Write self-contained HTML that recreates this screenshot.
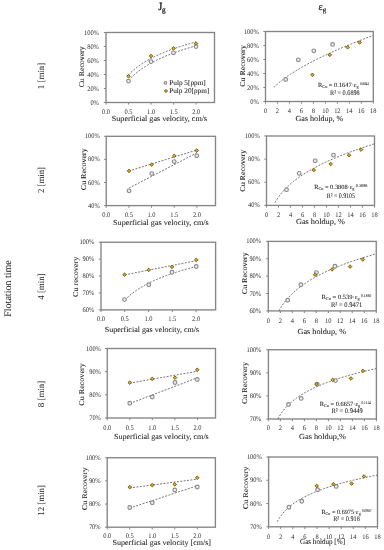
<!DOCTYPE html>
<html><head><meta charset="utf-8"><style>
html,body{margin:0;padding:0;background:#fff;}
body{width:384px;height:550px;overflow:hidden;}
svg{display:block;font-family:"Liberation Serif",serif;will-change:transform;text-rendering:geometricPrecision;}
text{stroke:#1a1a1a;stroke-width:0.06px;}
text.t{stroke:none;}
</style></head><body>
<svg width="384" height="550" viewBox="0 0 384 550">
<rect width="384" height="550" fill="#fff"/>
<rect x="106" y="32.5" width="108.5" height="70" fill="none" stroke="#858585" stroke-width="1.35"/>
<line x1="103.8" y1="102.5" x2="106" y2="102.5" stroke="#858585" stroke-width="1"/>
<text x="99" y="104.5" class="t" font-size="7.0" text-anchor="end" fill="#2a2a2a" textLength="8.58" lengthAdjust="spacingAndGlyphs">0%</text>
<line x1="103.8" y1="88.5" x2="106" y2="88.5" stroke="#858585" stroke-width="1"/>
<text x="99" y="90.5" class="t" font-size="7.0" text-anchor="end" fill="#2a2a2a" textLength="11.8" lengthAdjust="spacingAndGlyphs">20%</text>
<line x1="103.8" y1="74.5" x2="106" y2="74.5" stroke="#858585" stroke-width="1"/>
<text x="99" y="76.5" class="t" font-size="7.0" text-anchor="end" fill="#2a2a2a" textLength="11.8" lengthAdjust="spacingAndGlyphs">40%</text>
<line x1="103.8" y1="60.5" x2="106" y2="60.5" stroke="#858585" stroke-width="1"/>
<text x="99" y="62.5" class="t" font-size="7.0" text-anchor="end" fill="#2a2a2a" textLength="11.8" lengthAdjust="spacingAndGlyphs">60%</text>
<line x1="103.8" y1="46.5" x2="106" y2="46.5" stroke="#858585" stroke-width="1"/>
<text x="99" y="48.5" class="t" font-size="7.0" text-anchor="end" fill="#2a2a2a" textLength="11.8" lengthAdjust="spacingAndGlyphs">80%</text>
<line x1="103.8" y1="32.5" x2="106" y2="32.5" stroke="#858585" stroke-width="1"/>
<text x="99" y="34.5" class="t" font-size="7.0" text-anchor="end" fill="#2a2a2a" textLength="15.02" lengthAdjust="spacingAndGlyphs">100%</text>
<line x1="106" y1="102.5" x2="106" y2="104.7" stroke="#858585" stroke-width="1"/>
<text x="106" y="113.9" class="t" font-size="7.0" text-anchor="middle" fill="#2a2a2a" textLength="8.05" lengthAdjust="spacingAndGlyphs">0.0</text>
<line x1="128.55" y1="102.5" x2="128.55" y2="104.7" stroke="#858585" stroke-width="1"/>
<text x="128.55" y="113.9" class="t" font-size="7.0" text-anchor="middle" fill="#2a2a2a" textLength="8.05" lengthAdjust="spacingAndGlyphs">0.5</text>
<line x1="151.1" y1="102.5" x2="151.1" y2="104.7" stroke="#858585" stroke-width="1"/>
<text x="151.1" y="113.9" class="t" font-size="7.0" text-anchor="middle" fill="#2a2a2a" textLength="8.05" lengthAdjust="spacingAndGlyphs">1.0</text>
<line x1="173.65" y1="102.5" x2="173.65" y2="104.7" stroke="#858585" stroke-width="1"/>
<text x="173.65" y="113.9" class="t" font-size="7.0" text-anchor="middle" fill="#2a2a2a" textLength="8.05" lengthAdjust="spacingAndGlyphs">1.5</text>
<line x1="196.2" y1="102.5" x2="196.2" y2="104.7" stroke="#858585" stroke-width="1"/>
<text x="196.2" y="113.9" class="t" font-size="7.0" text-anchor="middle" fill="#2a2a2a" textLength="8.05" lengthAdjust="spacingAndGlyphs">2.0</text>
<text transform="translate(83.8,66.85) rotate(-90)" x="0" y="0" font-size="7.4" text-anchor="middle" fill="#1a1a1a" textLength="41" lengthAdjust="spacingAndGlyphs">Cu Recovery</text>
<text x="111.8" y="120.6" font-size="7.8" fill="#1a1a1a" textLength="95.3" lengthAdjust="spacingAndGlyphs">Superficial gas velocity, cm/s</text>
<path d="M128.55,80.34 L130.88,77.88 L133.22,75.65 L135.55,73.6 L137.88,71.7 L140.21,69.94 L142.55,68.29 L144.88,66.75 L147.21,65.3 L149.54,63.92 L151.88,62.62 L154.21,61.38 L156.54,60.21 L158.88,59.08 L161.21,58 L163.54,56.97 L165.87,55.98 L168.21,55.03 L170.54,54.11 L172.87,53.22 L175.21,52.37 L177.54,51.54 L179.87,50.74 L182.2,49.96 L184.54,49.21 L186.87,48.48 L189.2,47.77 L191.53,47.08 L193.87,46.41 L196.2,45.76" fill="none" stroke="#666666" stroke-width="0.9" stroke-dasharray="2 1.4"/>
<path d="M128.55,74.86 L130.88,72.52 L133.22,70.39 L135.55,68.44 L137.88,66.63 L140.21,64.95 L142.55,63.38 L144.88,61.91 L147.21,60.53 L149.54,59.22 L151.88,57.98 L154.21,56.8 L156.54,55.67 L158.88,54.6 L161.21,53.57 L163.54,52.59 L165.87,51.65 L168.21,50.74 L170.54,49.86 L172.87,49.02 L175.21,48.2 L177.54,47.41 L179.87,46.65 L182.2,45.91 L184.54,45.19 L186.87,44.5 L189.2,43.82 L191.53,43.16 L193.87,42.53 L196.2,41.9" fill="none" stroke="#666666" stroke-width="0.9" stroke-dasharray="2 1.4"/>
<circle cx="128.5" cy="81.1" r="1.85" fill="#f0f0f0" stroke="#8a8a8a" stroke-width="1.15"/>
<circle cx="151" cy="61.6" r="1.85" fill="#f0f0f0" stroke="#8a8a8a" stroke-width="1.15"/>
<circle cx="173.5" cy="52.8" r="1.85" fill="#f0f0f0" stroke="#8a8a8a" stroke-width="1.15"/>
<circle cx="196" cy="46.6" r="1.85" fill="#f0f0f0" stroke="#8a8a8a" stroke-width="1.15"/>
<path d="M128.5,74.5 L130.3,76.3 L128.5,78.1 L126.7,76.3Z" fill="#E8AA00" stroke="#5e5020" stroke-width="0.85"/>
<path d="M151,54.2 L152.8,56 L151,57.8 L149.2,56Z" fill="#E8AA00" stroke="#5e5020" stroke-width="0.85"/>
<path d="M173.5,46.6 L175.3,48.4 L173.5,50.2 L171.7,48.4Z" fill="#E8AA00" stroke="#5e5020" stroke-width="0.85"/>
<path d="M196,41.8 L197.8,43.6 L196,45.4 L194.2,43.6Z" fill="#E8AA00" stroke="#5e5020" stroke-width="0.85"/>
<rect x="106.25" y="136.3" width="109.25" height="69.3" fill="none" stroke="#858585" stroke-width="1.35"/>
<line x1="104.05" y1="205.6" x2="106.25" y2="205.6" stroke="#858585" stroke-width="1"/>
<text x="99.8" y="207.6" class="t" font-size="7.0" text-anchor="end" fill="#2a2a2a" textLength="11.8" lengthAdjust="spacingAndGlyphs">40%</text>
<line x1="104.05" y1="182.5" x2="106.25" y2="182.5" stroke="#858585" stroke-width="1"/>
<text x="99.8" y="184.5" class="t" font-size="7.0" text-anchor="end" fill="#2a2a2a" textLength="11.8" lengthAdjust="spacingAndGlyphs">60%</text>
<line x1="104.05" y1="159.4" x2="106.25" y2="159.4" stroke="#858585" stroke-width="1"/>
<text x="99.8" y="161.4" class="t" font-size="7.0" text-anchor="end" fill="#2a2a2a" textLength="11.8" lengthAdjust="spacingAndGlyphs">80%</text>
<line x1="104.05" y1="136.3" x2="106.25" y2="136.3" stroke="#858585" stroke-width="1"/>
<text x="99.8" y="138.3" class="t" font-size="7.0" text-anchor="end" fill="#2a2a2a" textLength="15.02" lengthAdjust="spacingAndGlyphs">100%</text>
<line x1="106.25" y1="205.6" x2="106.25" y2="207.8" stroke="#858585" stroke-width="1"/>
<text x="106.25" y="216.9" class="t" font-size="7.0" text-anchor="middle" fill="#2a2a2a" textLength="8.05" lengthAdjust="spacingAndGlyphs">0.0</text>
<line x1="128.91" y1="205.6" x2="128.91" y2="207.8" stroke="#858585" stroke-width="1"/>
<text x="128.91" y="216.9" class="t" font-size="7.0" text-anchor="middle" fill="#2a2a2a" textLength="8.05" lengthAdjust="spacingAndGlyphs">0.5</text>
<line x1="151.57" y1="205.6" x2="151.57" y2="207.8" stroke="#858585" stroke-width="1"/>
<text x="151.57" y="216.9" class="t" font-size="7.0" text-anchor="middle" fill="#2a2a2a" textLength="8.05" lengthAdjust="spacingAndGlyphs">1.0</text>
<line x1="174.24" y1="205.6" x2="174.24" y2="207.8" stroke="#858585" stroke-width="1"/>
<text x="174.24" y="216.9" class="t" font-size="7.0" text-anchor="middle" fill="#2a2a2a" textLength="8.05" lengthAdjust="spacingAndGlyphs">1.5</text>
<line x1="196.9" y1="205.6" x2="196.9" y2="207.8" stroke="#858585" stroke-width="1"/>
<text x="196.9" y="216.9" class="t" font-size="7.0" text-anchor="middle" fill="#2a2a2a" textLength="8.05" lengthAdjust="spacingAndGlyphs">2.0</text>
<text transform="translate(86.4,169.25) rotate(-90)" x="0" y="0" font-size="7.4" text-anchor="middle" fill="#1a1a1a" textLength="41.9" lengthAdjust="spacingAndGlyphs">Cu Recovery</text>
<text x="113.1" y="225.2" font-size="7.8" fill="#1a1a1a" textLength="95.65" lengthAdjust="spacingAndGlyphs">Superficial gas velocity, cm/s</text>
<path d="M128.91,188.12 L196.9,152.86" fill="none" stroke="#666666" stroke-width="0.9" stroke-dasharray="2 1.4"/>
<path d="M128.91,170.96 L196.9,149.98" fill="none" stroke="#666666" stroke-width="0.9" stroke-dasharray="2 1.4"/>
<circle cx="129" cy="190.8" r="1.85" fill="#f0f0f0" stroke="#8a8a8a" stroke-width="1.15"/>
<circle cx="151.75" cy="173.55" r="1.85" fill="#f0f0f0" stroke="#8a8a8a" stroke-width="1.15"/>
<circle cx="174.25" cy="161.55" r="1.85" fill="#f0f0f0" stroke="#8a8a8a" stroke-width="1.15"/>
<circle cx="196.75" cy="155.8" r="1.85" fill="#f0f0f0" stroke="#8a8a8a" stroke-width="1.15"/>
<path d="M129,169.1 L130.8,170.9 L129,172.7 L127.2,170.9Z" fill="#E8AA00" stroke="#5e5020" stroke-width="0.85"/>
<path d="M151.75,162.85 L153.55,164.65 L151.75,166.45 L149.95,164.65Z" fill="#E8AA00" stroke="#5e5020" stroke-width="0.85"/>
<path d="M174.25,154.1 L176.05,155.9 L174.25,157.7 L172.45,155.9Z" fill="#E8AA00" stroke="#5e5020" stroke-width="0.85"/>
<path d="M196.75,148.8 L198.55,150.6 L196.75,152.4 L194.95,150.6Z" fill="#E8AA00" stroke="#5e5020" stroke-width="0.85"/>
<rect x="101" y="242.25" width="114.6" height="67.65" fill="none" stroke="#858585" stroke-width="1.35"/>
<line x1="98.8" y1="309.9" x2="101" y2="309.9" stroke="#858585" stroke-width="1"/>
<text x="94.4" y="311.9" class="t" font-size="7.0" text-anchor="end" fill="#2a2a2a" textLength="11.8" lengthAdjust="spacingAndGlyphs">60%</text>
<line x1="98.8" y1="292.99" x2="101" y2="292.99" stroke="#858585" stroke-width="1"/>
<text x="94.4" y="294.99" class="t" font-size="7.0" text-anchor="end" fill="#2a2a2a" textLength="11.8" lengthAdjust="spacingAndGlyphs">70%</text>
<line x1="98.8" y1="276.07" x2="101" y2="276.07" stroke="#858585" stroke-width="1"/>
<text x="94.4" y="278.07" class="t" font-size="7.0" text-anchor="end" fill="#2a2a2a" textLength="11.8" lengthAdjust="spacingAndGlyphs">80%</text>
<line x1="98.8" y1="259.16" x2="101" y2="259.16" stroke="#858585" stroke-width="1"/>
<text x="94.4" y="261.16" class="t" font-size="7.0" text-anchor="end" fill="#2a2a2a" textLength="11.8" lengthAdjust="spacingAndGlyphs">90%</text>
<line x1="98.8" y1="242.25" x2="101" y2="242.25" stroke="#858585" stroke-width="1"/>
<text x="94.4" y="244.25" class="t" font-size="7.0" text-anchor="end" fill="#2a2a2a" textLength="15.02" lengthAdjust="spacingAndGlyphs">100%</text>
<line x1="101" y1="309.9" x2="101" y2="312.1" stroke="#858585" stroke-width="1"/>
<text x="101" y="320.8" class="t" font-size="7.0" text-anchor="middle" fill="#2a2a2a" textLength="8.05" lengthAdjust="spacingAndGlyphs">0.0</text>
<line x1="124.78" y1="309.9" x2="124.78" y2="312.1" stroke="#858585" stroke-width="1"/>
<text x="124.78" y="320.8" class="t" font-size="7.0" text-anchor="middle" fill="#2a2a2a" textLength="8.05" lengthAdjust="spacingAndGlyphs">0.5</text>
<line x1="148.55" y1="309.9" x2="148.55" y2="312.1" stroke="#858585" stroke-width="1"/>
<text x="148.55" y="320.8" class="t" font-size="7.0" text-anchor="middle" fill="#2a2a2a" textLength="8.05" lengthAdjust="spacingAndGlyphs">1.0</text>
<line x1="172.32" y1="309.9" x2="172.32" y2="312.1" stroke="#858585" stroke-width="1"/>
<text x="172.32" y="320.8" class="t" font-size="7.0" text-anchor="middle" fill="#2a2a2a" textLength="8.05" lengthAdjust="spacingAndGlyphs">1.5</text>
<line x1="196.1" y1="309.9" x2="196.1" y2="312.1" stroke="#858585" stroke-width="1"/>
<text x="196.1" y="320.8" class="t" font-size="7.0" text-anchor="middle" fill="#2a2a2a" textLength="8.05" lengthAdjust="spacingAndGlyphs">2.0</text>
<text transform="translate(78,276.85) rotate(-90)" x="0" y="0" font-size="7.4" text-anchor="middle" fill="#1a1a1a" textLength="40.5" lengthAdjust="spacingAndGlyphs">Cu recovery</text>
<text x="104.75" y="332.4" font-size="7.8" fill="#1a1a1a" textLength="94.35" lengthAdjust="spacingAndGlyphs">Superficial gas velocity, cm/s</text>
<path d="M124.78,299.96 L127.23,297.59 L129.69,295.42 L132.15,293.44 L134.61,291.61 L137.07,289.9 L139.53,288.31 L141.99,286.82 L144.45,285.41 L146.91,284.08 L149.37,282.82 L151.83,281.62 L154.29,280.48 L156.75,279.39 L159.21,278.35 L161.67,277.35 L164.13,276.39 L166.59,275.47 L169.05,274.58 L171.51,273.73 L173.96,272.9 L176.42,272.1 L178.88,271.32 L181.34,270.57 L183.8,269.85 L186.26,269.14 L188.72,268.45 L191.18,267.79 L193.64,267.14 L196.1,266.5" fill="none" stroke="#666666" stroke-width="0.9" stroke-dasharray="2 1.4"/>
<path d="M124.78,274.85 L196.1,260.7" fill="none" stroke="#666666" stroke-width="0.9" stroke-dasharray="2 1.4"/>
<circle cx="124.5" cy="299.6" r="1.85" fill="#f0f0f0" stroke="#8a8a8a" stroke-width="1.15"/>
<circle cx="148.75" cy="284.8" r="1.85" fill="#f0f0f0" stroke="#8a8a8a" stroke-width="1.15"/>
<circle cx="172" cy="272.3" r="1.85" fill="#f0f0f0" stroke="#8a8a8a" stroke-width="1.15"/>
<circle cx="196.25" cy="266.5" r="1.85" fill="#f0f0f0" stroke="#8a8a8a" stroke-width="1.15"/>
<path d="M124.5,272.85 L126.3,274.65 L124.5,276.45 L122.7,274.65Z" fill="#E8AA00" stroke="#5e5020" stroke-width="0.85"/>
<path d="M148.75,268.1 L150.55,269.9 L148.75,271.7 L146.95,269.9Z" fill="#E8AA00" stroke="#5e5020" stroke-width="0.85"/>
<path d="M172,265.1 L173.8,266.9 L172,268.7 L170.2,266.9Z" fill="#E8AA00" stroke="#5e5020" stroke-width="0.85"/>
<path d="M196.25,258.1 L198.05,259.9 L196.25,261.7 L194.45,259.9Z" fill="#E8AA00" stroke="#5e5020" stroke-width="0.85"/>
<rect x="107.25" y="348.5" width="108.25" height="69.5" fill="none" stroke="#858585" stroke-width="1.35"/>
<line x1="105.05" y1="418" x2="107.25" y2="418" stroke="#858585" stroke-width="1"/>
<text x="101" y="420" class="t" font-size="7.0" text-anchor="end" fill="#2a2a2a" textLength="11.8" lengthAdjust="spacingAndGlyphs">70%</text>
<line x1="105.05" y1="394.83" x2="107.25" y2="394.83" stroke="#858585" stroke-width="1"/>
<text x="101" y="396.83" class="t" font-size="7.0" text-anchor="end" fill="#2a2a2a" textLength="11.8" lengthAdjust="spacingAndGlyphs">80%</text>
<line x1="105.05" y1="371.67" x2="107.25" y2="371.67" stroke="#858585" stroke-width="1"/>
<text x="101" y="373.67" class="t" font-size="7.0" text-anchor="end" fill="#2a2a2a" textLength="11.8" lengthAdjust="spacingAndGlyphs">90%</text>
<line x1="105.05" y1="348.5" x2="107.25" y2="348.5" stroke="#858585" stroke-width="1"/>
<text x="101" y="350.5" class="t" font-size="7.0" text-anchor="end" fill="#2a2a2a" textLength="15.02" lengthAdjust="spacingAndGlyphs">100%</text>
<line x1="107.25" y1="418" x2="107.25" y2="420.2" stroke="#858585" stroke-width="1"/>
<text x="107.25" y="430" class="t" font-size="7.0" text-anchor="middle" fill="#2a2a2a" textLength="8.05" lengthAdjust="spacingAndGlyphs">0.0</text>
<line x1="129.79" y1="418" x2="129.79" y2="420.2" stroke="#858585" stroke-width="1"/>
<text x="129.79" y="430" class="t" font-size="7.0" text-anchor="middle" fill="#2a2a2a" textLength="8.05" lengthAdjust="spacingAndGlyphs">0.5</text>
<line x1="152.32" y1="418" x2="152.32" y2="420.2" stroke="#858585" stroke-width="1"/>
<text x="152.32" y="430" class="t" font-size="7.0" text-anchor="middle" fill="#2a2a2a" textLength="8.05" lengthAdjust="spacingAndGlyphs">1.0</text>
<line x1="174.86" y1="418" x2="174.86" y2="420.2" stroke="#858585" stroke-width="1"/>
<text x="174.86" y="430" class="t" font-size="7.0" text-anchor="middle" fill="#2a2a2a" textLength="8.05" lengthAdjust="spacingAndGlyphs">1.5</text>
<line x1="197.4" y1="418" x2="197.4" y2="420.2" stroke="#858585" stroke-width="1"/>
<text x="197.4" y="430" class="t" font-size="7.0" text-anchor="middle" fill="#2a2a2a" textLength="8.05" lengthAdjust="spacingAndGlyphs">2.0</text>
<text transform="translate(83.7,384.5) rotate(-90)" x="0" y="0" font-size="7.4" text-anchor="middle" fill="#1a1a1a" textLength="42.4" lengthAdjust="spacingAndGlyphs">Cu Recovery</text>
<text x="114" y="439.2" font-size="7.8" fill="#1a1a1a" textLength="94.75" lengthAdjust="spacingAndGlyphs">Superficial gas velocity, cm/s</text>
<path d="M129.79,403.53 L197.4,377.77" fill="none" stroke="#666666" stroke-width="0.9" stroke-dasharray="2 1.4"/>
<path d="M129.79,383.16 L197.4,371.23" fill="none" stroke="#666666" stroke-width="0.9" stroke-dasharray="2 1.4"/>
<circle cx="129.75" cy="403.3" r="1.85" fill="#f0f0f0" stroke="#8a8a8a" stroke-width="1.15"/>
<circle cx="152.25" cy="397.05" r="1.85" fill="#f0f0f0" stroke="#8a8a8a" stroke-width="1.15"/>
<circle cx="175" cy="382.55" r="1.85" fill="#f0f0f0" stroke="#8a8a8a" stroke-width="1.15"/>
<circle cx="197.25" cy="379.55" r="1.85" fill="#f0f0f0" stroke="#8a8a8a" stroke-width="1.15"/>
<path d="M129.75,380.85 L131.55,382.65 L129.75,384.45 L127.95,382.65Z" fill="#E8AA00" stroke="#5e5020" stroke-width="0.85"/>
<path d="M152.25,377.1 L154.05,378.9 L152.25,380.7 L150.45,378.9Z" fill="#E8AA00" stroke="#5e5020" stroke-width="0.85"/>
<path d="M175,375.85 L176.8,377.65 L175,379.45 L173.2,377.65Z" fill="#E8AA00" stroke="#5e5020" stroke-width="0.85"/>
<path d="M197.25,368 L199.05,369.8 L197.25,371.6 L195.45,369.8Z" fill="#E8AA00" stroke="#5e5020" stroke-width="0.85"/>
<rect x="107.2" y="457.75" width="108.2" height="69.45" fill="none" stroke="#858585" stroke-width="1.35"/>
<line x1="105" y1="527.2" x2="107.2" y2="527.2" stroke="#858585" stroke-width="1"/>
<text x="100.7" y="529.2" class="t" font-size="7.0" text-anchor="end" fill="#2a2a2a" textLength="11.8" lengthAdjust="spacingAndGlyphs">70%</text>
<line x1="105" y1="504.05" x2="107.2" y2="504.05" stroke="#858585" stroke-width="1"/>
<text x="100.7" y="506.05" class="t" font-size="7.0" text-anchor="end" fill="#2a2a2a" textLength="11.8" lengthAdjust="spacingAndGlyphs">80%</text>
<line x1="105" y1="480.9" x2="107.2" y2="480.9" stroke="#858585" stroke-width="1"/>
<text x="100.7" y="482.9" class="t" font-size="7.0" text-anchor="end" fill="#2a2a2a" textLength="11.8" lengthAdjust="spacingAndGlyphs">90%</text>
<line x1="105" y1="457.75" x2="107.2" y2="457.75" stroke="#858585" stroke-width="1"/>
<text x="100.7" y="459.75" class="t" font-size="7.0" text-anchor="end" fill="#2a2a2a" textLength="15.02" lengthAdjust="spacingAndGlyphs">100%</text>
<line x1="107.2" y1="527.2" x2="107.2" y2="529.4" stroke="#858585" stroke-width="1"/>
<text x="107.2" y="538.3" class="t" font-size="7.0" text-anchor="middle" fill="#2a2a2a" textLength="8.05" lengthAdjust="spacingAndGlyphs">0.0</text>
<line x1="129.71" y1="527.2" x2="129.71" y2="529.4" stroke="#858585" stroke-width="1"/>
<text x="129.71" y="538.3" class="t" font-size="7.0" text-anchor="middle" fill="#2a2a2a" textLength="8.05" lengthAdjust="spacingAndGlyphs">0.5</text>
<line x1="152.22" y1="527.2" x2="152.22" y2="529.4" stroke="#858585" stroke-width="1"/>
<text x="152.22" y="538.3" class="t" font-size="7.0" text-anchor="middle" fill="#2a2a2a" textLength="8.05" lengthAdjust="spacingAndGlyphs">1.0</text>
<line x1="174.74" y1="527.2" x2="174.74" y2="529.4" stroke="#858585" stroke-width="1"/>
<text x="174.74" y="538.3" class="t" font-size="7.0" text-anchor="middle" fill="#2a2a2a" textLength="8.05" lengthAdjust="spacingAndGlyphs">1.5</text>
<line x1="197.25" y1="527.2" x2="197.25" y2="529.4" stroke="#858585" stroke-width="1"/>
<text x="197.25" y="538.3" class="t" font-size="7.0" text-anchor="middle" fill="#2a2a2a" textLength="8.05" lengthAdjust="spacingAndGlyphs">2.0</text>
<text transform="translate(87.2,488.85) rotate(-90)" x="0" y="0" font-size="7.4" text-anchor="middle" fill="#1a1a1a" textLength="42.7" lengthAdjust="spacingAndGlyphs">Cu Recovery</text>
<text x="112.5" y="545.1" font-size="7.8" fill="#1a1a1a" textLength="98.5" lengthAdjust="spacingAndGlyphs">Superficial gas velocity [cm/s]</text>
<path d="M129.71,508.06 L197.25,485.77" fill="none" stroke="#666666" stroke-width="0.9" stroke-dasharray="2 1.4"/>
<path d="M129.71,487.92 L197.25,479.18" fill="none" stroke="#666666" stroke-width="0.9" stroke-dasharray="2 1.4"/>
<circle cx="129.75" cy="507.55" r="1.85" fill="#f0f0f0" stroke="#8a8a8a" stroke-width="1.15"/>
<circle cx="152.25" cy="502.8" r="1.85" fill="#f0f0f0" stroke="#8a8a8a" stroke-width="1.15"/>
<circle cx="174.75" cy="490.05" r="1.85" fill="#f0f0f0" stroke="#8a8a8a" stroke-width="1.15"/>
<circle cx="197.25" cy="487.05" r="1.85" fill="#f0f0f0" stroke="#8a8a8a" stroke-width="1.15"/>
<path d="M129.75,485.35 L131.55,487.15 L129.75,488.95 L127.95,487.15Z" fill="#E8AA00" stroke="#5e5020" stroke-width="0.85"/>
<path d="M152.25,483.35 L154.05,485.15 L152.25,486.95 L150.45,485.15Z" fill="#E8AA00" stroke="#5e5020" stroke-width="0.85"/>
<path d="M174.75,482.6 L176.55,484.4 L174.75,486.2 L172.95,484.4Z" fill="#E8AA00" stroke="#5e5020" stroke-width="0.85"/>
<path d="M197.25,475.9 L199.05,477.7 L197.25,479.5 L195.45,477.7Z" fill="#E8AA00" stroke="#5e5020" stroke-width="0.85"/>
<rect x="265.5" y="31.5" width="107.8" height="70" fill="none" stroke="#858585" stroke-width="1.35"/>
<line x1="263.3" y1="101.5" x2="265.5" y2="101.5" stroke="#858585" stroke-width="1"/>
<text x="258.9" y="103.5" class="t" font-size="7.0" text-anchor="end" fill="#2a2a2a" textLength="8.58" lengthAdjust="spacingAndGlyphs">0%</text>
<line x1="263.3" y1="87.5" x2="265.5" y2="87.5" stroke="#858585" stroke-width="1"/>
<text x="258.9" y="89.5" class="t" font-size="7.0" text-anchor="end" fill="#2a2a2a" textLength="11.8" lengthAdjust="spacingAndGlyphs">20%</text>
<line x1="263.3" y1="73.5" x2="265.5" y2="73.5" stroke="#858585" stroke-width="1"/>
<text x="258.9" y="75.5" class="t" font-size="7.0" text-anchor="end" fill="#2a2a2a" textLength="11.8" lengthAdjust="spacingAndGlyphs">40%</text>
<line x1="263.3" y1="59.5" x2="265.5" y2="59.5" stroke="#858585" stroke-width="1"/>
<text x="258.9" y="61.5" class="t" font-size="7.0" text-anchor="end" fill="#2a2a2a" textLength="11.8" lengthAdjust="spacingAndGlyphs">60%</text>
<line x1="263.3" y1="45.5" x2="265.5" y2="45.5" stroke="#858585" stroke-width="1"/>
<text x="258.9" y="47.5" class="t" font-size="7.0" text-anchor="end" fill="#2a2a2a" textLength="11.8" lengthAdjust="spacingAndGlyphs">80%</text>
<line x1="263.3" y1="31.5" x2="265.5" y2="31.5" stroke="#858585" stroke-width="1"/>
<text x="258.9" y="33.5" class="t" font-size="7.0" text-anchor="end" fill="#2a2a2a" textLength="15.02" lengthAdjust="spacingAndGlyphs">100%</text>
<line x1="265.5" y1="101.5" x2="265.5" y2="103.7" stroke="#858585" stroke-width="1"/>
<text x="265.5" y="113.3" class="t" font-size="7.0" text-anchor="middle" fill="#2a2a2a" textLength="3.22" lengthAdjust="spacingAndGlyphs">0</text>
<line x1="277.48" y1="101.5" x2="277.48" y2="103.7" stroke="#858585" stroke-width="1"/>
<text x="277.48" y="113.3" class="t" font-size="7.0" text-anchor="middle" fill="#2a2a2a" textLength="3.22" lengthAdjust="spacingAndGlyphs">2</text>
<line x1="289.46" y1="101.5" x2="289.46" y2="103.7" stroke="#858585" stroke-width="1"/>
<text x="289.46" y="113.3" class="t" font-size="7.0" text-anchor="middle" fill="#2a2a2a" textLength="3.22" lengthAdjust="spacingAndGlyphs">4</text>
<line x1="301.43" y1="101.5" x2="301.43" y2="103.7" stroke="#858585" stroke-width="1"/>
<text x="301.43" y="113.3" class="t" font-size="7.0" text-anchor="middle" fill="#2a2a2a" textLength="3.22" lengthAdjust="spacingAndGlyphs">6</text>
<line x1="313.41" y1="101.5" x2="313.41" y2="103.7" stroke="#858585" stroke-width="1"/>
<text x="313.41" y="113.3" class="t" font-size="7.0" text-anchor="middle" fill="#2a2a2a" textLength="3.22" lengthAdjust="spacingAndGlyphs">8</text>
<line x1="325.39" y1="101.5" x2="325.39" y2="103.7" stroke="#858585" stroke-width="1"/>
<text x="325.39" y="113.3" class="t" font-size="7.0" text-anchor="middle" fill="#2a2a2a" textLength="6.44" lengthAdjust="spacingAndGlyphs">10</text>
<line x1="337.37" y1="101.5" x2="337.37" y2="103.7" stroke="#858585" stroke-width="1"/>
<text x="337.37" y="113.3" class="t" font-size="7.0" text-anchor="middle" fill="#2a2a2a" textLength="6.44" lengthAdjust="spacingAndGlyphs">12</text>
<line x1="349.34" y1="101.5" x2="349.34" y2="103.7" stroke="#858585" stroke-width="1"/>
<text x="349.34" y="113.3" class="t" font-size="7.0" text-anchor="middle" fill="#2a2a2a" textLength="6.44" lengthAdjust="spacingAndGlyphs">14</text>
<line x1="361.32" y1="101.5" x2="361.32" y2="103.7" stroke="#858585" stroke-width="1"/>
<text x="361.32" y="113.3" class="t" font-size="7.0" text-anchor="middle" fill="#2a2a2a" textLength="6.44" lengthAdjust="spacingAndGlyphs">16</text>
<line x1="373.3" y1="101.5" x2="373.3" y2="103.7" stroke="#858585" stroke-width="1"/>
<text x="373.3" y="113.3" class="t" font-size="7.0" text-anchor="middle" fill="#2a2a2a" textLength="6.44" lengthAdjust="spacingAndGlyphs">18</text>
<text transform="translate(244.6,65.9) rotate(-90)" x="0" y="0" font-size="7.4" text-anchor="middle" fill="#1a1a1a" textLength="41.8" lengthAdjust="spacingAndGlyphs">Cu Recovery</text>
<text x="295.5" y="120.9" font-size="7.8" fill="#1a1a1a" textLength="47.8" lengthAdjust="spacingAndGlyphs">Gas holdup, %</text>
<path d="M273.88,87.37 L275.57,85.72 L277.25,84.17 L278.94,82.71 L280.62,81.32 L282.31,79.99 L283.99,78.72 L285.68,77.48 L287.36,76.29 L289.05,75.14 L290.73,74.01 L292.42,72.92 L294.1,71.85 L295.79,70.81 L297.47,69.79 L299.16,68.79 L300.84,67.81 L302.53,66.85 L304.21,65.9 L305.9,64.97 L307.58,64.06 L309.27,63.16 L310.95,62.28 L312.64,61.41 L314.32,60.55 L316.01,59.7 L317.69,58.86 L319.38,58.03 L321.06,57.22 L322.75,56.41 L324.43,55.61 L326.12,54.83 L327.8,54.05 L329.49,53.28 L331.17,52.51 L332.86,51.76 L334.54,51.01 L336.23,50.27 L337.91,49.53 L339.6,48.81 L341.28,48.09 L342.97,47.37 L344.65,46.66 L346.34,45.96 L348.02,45.27 L349.71,44.57 L351.39,43.89 L353.08,43.21 L354.76,42.53 L356.45,41.86 L358.13,41.2 L359.82,40.54 L361.5,39.88 L363.19,39.23 L364.87,38.59 L366.56,37.94 L368.24,37.3 L369.93,36.67 L371.61,36.04 L373.3,35.42" fill="none" stroke="#666666" stroke-width="0.9" stroke-dasharray="2 1.4"/>
<circle cx="285.7" cy="79.5" r="1.85" fill="#f0f0f0" stroke="#8a8a8a" stroke-width="1.15"/>
<circle cx="298.3" cy="59.8" r="1.85" fill="#f0f0f0" stroke="#8a8a8a" stroke-width="1.15"/>
<circle cx="313.8" cy="50.8" r="1.85" fill="#f0f0f0" stroke="#8a8a8a" stroke-width="1.15"/>
<circle cx="332.6" cy="44.4" r="1.85" fill="#f0f0f0" stroke="#8a8a8a" stroke-width="1.15"/>
<path d="M312.4,73 L314.2,74.8 L312.4,76.6 L310.6,74.8Z" fill="#E8AA00" stroke="#5e5020" stroke-width="0.85"/>
<path d="M329.8,53.1 L331.6,54.9 L329.8,56.7 L328,54.9Z" fill="#E8AA00" stroke="#5e5020" stroke-width="0.85"/>
<path d="M347.6,45.5 L349.4,47.3 L347.6,49.1 L345.8,47.3Z" fill="#E8AA00" stroke="#5e5020" stroke-width="0.85"/>
<path d="M359.6,40.7 L361.4,42.5 L359.6,44.3 L357.8,42.5Z" fill="#E8AA00" stroke="#5e5020" stroke-width="0.85"/>
<text x="318" y="87" font-size="6.3" fill="#1a1a1a" textLength="40.7" lengthAdjust="spacingAndGlyphs">R<tspan font-size="4.2" dy="1.1">Cu</tspan><tspan dy="-1.1"> = 0.1647·ε</tspan><tspan font-size="4.2" dy="1.1">g</tspan></text>
<text x="360" y="84.6" font-size="4.2" fill="#1a1a1a" textLength="9.2" lengthAdjust="spacingAndGlyphs">0.6041</text>
<text x="330" y="95" font-size="7.0" fill="#1a1a1a" textLength="29.7" lengthAdjust="spacingAndGlyphs">R² = 0.6898</text>
<rect x="266.5" y="136" width="108" height="69.4" fill="none" stroke="#858585" stroke-width="1.35"/>
<line x1="264.3" y1="205.4" x2="266.5" y2="205.4" stroke="#858585" stroke-width="1"/>
<text x="259.8" y="207.4" class="t" font-size="7.0" text-anchor="end" fill="#2a2a2a" textLength="11.8" lengthAdjust="spacingAndGlyphs">40%</text>
<line x1="264.3" y1="182.27" x2="266.5" y2="182.27" stroke="#858585" stroke-width="1"/>
<text x="259.8" y="184.27" class="t" font-size="7.0" text-anchor="end" fill="#2a2a2a" textLength="11.8" lengthAdjust="spacingAndGlyphs">60%</text>
<line x1="264.3" y1="159.13" x2="266.5" y2="159.13" stroke="#858585" stroke-width="1"/>
<text x="259.8" y="161.13" class="t" font-size="7.0" text-anchor="end" fill="#2a2a2a" textLength="11.8" lengthAdjust="spacingAndGlyphs">80%</text>
<line x1="264.3" y1="136" x2="266.5" y2="136" stroke="#858585" stroke-width="1"/>
<text x="259.8" y="138" class="t" font-size="7.0" text-anchor="end" fill="#2a2a2a" textLength="15.02" lengthAdjust="spacingAndGlyphs">100%</text>
<line x1="266.5" y1="205.4" x2="266.5" y2="207.6" stroke="#858585" stroke-width="1"/>
<text x="266.5" y="216.6" class="t" font-size="7.0" text-anchor="middle" fill="#2a2a2a" textLength="3.22" lengthAdjust="spacingAndGlyphs">0</text>
<line x1="278.5" y1="205.4" x2="278.5" y2="207.6" stroke="#858585" stroke-width="1"/>
<text x="278.5" y="216.6" class="t" font-size="7.0" text-anchor="middle" fill="#2a2a2a" textLength="3.22" lengthAdjust="spacingAndGlyphs">2</text>
<line x1="290.5" y1="205.4" x2="290.5" y2="207.6" stroke="#858585" stroke-width="1"/>
<text x="290.5" y="216.6" class="t" font-size="7.0" text-anchor="middle" fill="#2a2a2a" textLength="3.22" lengthAdjust="spacingAndGlyphs">4</text>
<line x1="302.5" y1="205.4" x2="302.5" y2="207.6" stroke="#858585" stroke-width="1"/>
<text x="302.5" y="216.6" class="t" font-size="7.0" text-anchor="middle" fill="#2a2a2a" textLength="3.22" lengthAdjust="spacingAndGlyphs">6</text>
<line x1="314.5" y1="205.4" x2="314.5" y2="207.6" stroke="#858585" stroke-width="1"/>
<text x="314.5" y="216.6" class="t" font-size="7.0" text-anchor="middle" fill="#2a2a2a" textLength="3.22" lengthAdjust="spacingAndGlyphs">8</text>
<line x1="326.5" y1="205.4" x2="326.5" y2="207.6" stroke="#858585" stroke-width="1"/>
<text x="326.5" y="216.6" class="t" font-size="7.0" text-anchor="middle" fill="#2a2a2a" textLength="6.44" lengthAdjust="spacingAndGlyphs">10</text>
<line x1="338.5" y1="205.4" x2="338.5" y2="207.6" stroke="#858585" stroke-width="1"/>
<text x="338.5" y="216.6" class="t" font-size="7.0" text-anchor="middle" fill="#2a2a2a" textLength="6.44" lengthAdjust="spacingAndGlyphs">12</text>
<line x1="350.5" y1="205.4" x2="350.5" y2="207.6" stroke="#858585" stroke-width="1"/>
<text x="350.5" y="216.6" class="t" font-size="7.0" text-anchor="middle" fill="#2a2a2a" textLength="6.44" lengthAdjust="spacingAndGlyphs">14</text>
<line x1="362.5" y1="205.4" x2="362.5" y2="207.6" stroke="#858585" stroke-width="1"/>
<text x="362.5" y="216.6" class="t" font-size="7.0" text-anchor="middle" fill="#2a2a2a" textLength="6.44" lengthAdjust="spacingAndGlyphs">16</text>
<line x1="374.5" y1="205.4" x2="374.5" y2="207.6" stroke="#858585" stroke-width="1"/>
<text x="374.5" y="216.6" class="t" font-size="7.0" text-anchor="middle" fill="#2a2a2a" textLength="6.44" lengthAdjust="spacingAndGlyphs">18</text>
<text transform="translate(244.9,170.75) rotate(-90)" x="0" y="0" font-size="7.4" text-anchor="middle" fill="#1a1a1a" textLength="41.9" lengthAdjust="spacingAndGlyphs">Cu Recovery</text>
<text x="295.9" y="224.25" font-size="7.8" fill="#1a1a1a" textLength="49.1" lengthAdjust="spacingAndGlyphs">Gas holdup, %</text>
<path d="M275.02,202.57 L276.71,199.74 L278.39,197.22 L280.08,194.94 L281.76,192.84 L283.45,190.9 L285.14,189.09 L286.82,187.39 L288.51,185.78 L290.19,184.26 L291.88,182.81 L293.57,181.42 L295.25,180.1 L296.94,178.82 L298.63,177.59 L300.31,176.41 L302,175.27 L303.68,174.16 L305.37,173.09 L307.06,172.05 L308.74,171.04 L310.43,170.05 L312.11,169.1 L313.8,168.16 L315.49,167.25 L317.17,166.36 L318.86,165.49 L320.54,164.64 L322.23,163.81 L323.92,163 L325.6,162.2 L327.29,161.41 L328.98,160.65 L330.66,159.89 L332.35,159.15 L334.03,158.42 L335.72,157.71 L337.41,157 L339.09,156.31 L340.78,155.63 L342.46,154.96 L344.15,154.3 L345.84,153.65 L347.52,153.01 L349.21,152.38 L350.89,151.76 L352.58,151.14 L354.27,150.54 L355.95,149.94 L357.64,149.35 L359.33,148.77 L361.01,148.19 L362.7,147.62 L364.38,147.06 L366.07,146.51 L367.76,145.96 L369.44,145.42 L371.13,144.88 L372.81,144.35 L374.5,143.82" fill="none" stroke="#666666" stroke-width="0.9" stroke-dasharray="2 1.4"/>
<circle cx="286.5" cy="189.7" r="1.85" fill="#f0f0f0" stroke="#8a8a8a" stroke-width="1.15"/>
<circle cx="299.2" cy="173.4" r="1.85" fill="#f0f0f0" stroke="#8a8a8a" stroke-width="1.15"/>
<circle cx="315.2" cy="160.8" r="1.85" fill="#f0f0f0" stroke="#8a8a8a" stroke-width="1.15"/>
<circle cx="333.5" cy="155.1" r="1.85" fill="#f0f0f0" stroke="#8a8a8a" stroke-width="1.15"/>
<path d="M313.8,168.3 L315.6,170.1 L313.8,171.9 L312,170.1Z" fill="#E8AA00" stroke="#5e5020" stroke-width="0.85"/>
<path d="M330.7,162.2 L332.5,164 L330.7,165.8 L328.9,164Z" fill="#E8AA00" stroke="#5e5020" stroke-width="0.85"/>
<path d="M349,153.4 L350.8,155.2 L349,157 L347.2,155.2Z" fill="#E8AA00" stroke="#5e5020" stroke-width="0.85"/>
<path d="M361,147.8 L362.8,149.6 L361,151.4 L359.2,149.6Z" fill="#E8AA00" stroke="#5e5020" stroke-width="0.85"/>
<text x="314.2" y="189" font-size="6.3" fill="#1a1a1a" textLength="40.3" lengthAdjust="spacingAndGlyphs">R<tspan font-size="4.2" dy="1.1">Cu</tspan><tspan dy="-1.1"> = 0.3808·ε</tspan><tspan font-size="4.2" dy="1.1">g</tspan></text>
<text x="355.8" y="186.6" font-size="4.2" fill="#1a1a1a" textLength="11.7" lengthAdjust="spacingAndGlyphs">0.3098</text>
<text x="326.7" y="197.8" font-size="7.0" fill="#1a1a1a" textLength="28.3" lengthAdjust="spacingAndGlyphs">R² = 0.9105</text>
<rect x="268.3" y="241.4" width="107.95" height="69.5" fill="none" stroke="#858585" stroke-width="1.35"/>
<line x1="266.1" y1="310.9" x2="268.3" y2="310.9" stroke="#858585" stroke-width="1"/>
<text x="261.2" y="312.9" class="t" font-size="7.0" text-anchor="end" fill="#2a2a2a" textLength="11.8" lengthAdjust="spacingAndGlyphs">60%</text>
<line x1="266.1" y1="293.52" x2="268.3" y2="293.52" stroke="#858585" stroke-width="1"/>
<text x="261.2" y="295.52" class="t" font-size="7.0" text-anchor="end" fill="#2a2a2a" textLength="11.8" lengthAdjust="spacingAndGlyphs">70%</text>
<line x1="266.1" y1="276.15" x2="268.3" y2="276.15" stroke="#858585" stroke-width="1"/>
<text x="261.2" y="278.15" class="t" font-size="7.0" text-anchor="end" fill="#2a2a2a" textLength="11.8" lengthAdjust="spacingAndGlyphs">80%</text>
<line x1="266.1" y1="258.77" x2="268.3" y2="258.77" stroke="#858585" stroke-width="1"/>
<text x="261.2" y="260.77" class="t" font-size="7.0" text-anchor="end" fill="#2a2a2a" textLength="11.8" lengthAdjust="spacingAndGlyphs">90%</text>
<line x1="266.1" y1="241.4" x2="268.3" y2="241.4" stroke="#858585" stroke-width="1"/>
<text x="261.2" y="243.4" class="t" font-size="7.0" text-anchor="end" fill="#2a2a2a" textLength="15.02" lengthAdjust="spacingAndGlyphs">100%</text>
<line x1="268.3" y1="310.9" x2="268.3" y2="313.1" stroke="#858585" stroke-width="1"/>
<text x="268.3" y="322.5" class="t" font-size="7.0" text-anchor="middle" fill="#2a2a2a" textLength="3.22" lengthAdjust="spacingAndGlyphs">0</text>
<line x1="280.29" y1="310.9" x2="280.29" y2="313.1" stroke="#858585" stroke-width="1"/>
<text x="280.29" y="322.5" class="t" font-size="7.0" text-anchor="middle" fill="#2a2a2a" textLength="3.22" lengthAdjust="spacingAndGlyphs">2</text>
<line x1="292.29" y1="310.9" x2="292.29" y2="313.1" stroke="#858585" stroke-width="1"/>
<text x="292.29" y="322.5" class="t" font-size="7.0" text-anchor="middle" fill="#2a2a2a" textLength="3.22" lengthAdjust="spacingAndGlyphs">4</text>
<line x1="304.28" y1="310.9" x2="304.28" y2="313.1" stroke="#858585" stroke-width="1"/>
<text x="304.28" y="322.5" class="t" font-size="7.0" text-anchor="middle" fill="#2a2a2a" textLength="3.22" lengthAdjust="spacingAndGlyphs">6</text>
<line x1="316.28" y1="310.9" x2="316.28" y2="313.1" stroke="#858585" stroke-width="1"/>
<text x="316.28" y="322.5" class="t" font-size="7.0" text-anchor="middle" fill="#2a2a2a" textLength="3.22" lengthAdjust="spacingAndGlyphs">8</text>
<line x1="328.27" y1="310.9" x2="328.27" y2="313.1" stroke="#858585" stroke-width="1"/>
<text x="328.27" y="322.5" class="t" font-size="7.0" text-anchor="middle" fill="#2a2a2a" textLength="6.44" lengthAdjust="spacingAndGlyphs">10</text>
<line x1="340.27" y1="310.9" x2="340.27" y2="313.1" stroke="#858585" stroke-width="1"/>
<text x="340.27" y="322.5" class="t" font-size="7.0" text-anchor="middle" fill="#2a2a2a" textLength="6.44" lengthAdjust="spacingAndGlyphs">12</text>
<line x1="352.26" y1="310.9" x2="352.26" y2="313.1" stroke="#858585" stroke-width="1"/>
<text x="352.26" y="322.5" class="t" font-size="7.0" text-anchor="middle" fill="#2a2a2a" textLength="6.44" lengthAdjust="spacingAndGlyphs">14</text>
<line x1="364.26" y1="310.9" x2="364.26" y2="313.1" stroke="#858585" stroke-width="1"/>
<text x="364.26" y="322.5" class="t" font-size="7.0" text-anchor="middle" fill="#2a2a2a" textLength="6.44" lengthAdjust="spacingAndGlyphs">16</text>
<line x1="376.25" y1="310.9" x2="376.25" y2="313.1" stroke="#858585" stroke-width="1"/>
<text x="376.25" y="322.5" class="t" font-size="7.0" text-anchor="middle" fill="#2a2a2a" textLength="6.44" lengthAdjust="spacingAndGlyphs">18</text>
<text transform="translate(246.9,273.25) rotate(-90)" x="0" y="0" font-size="7.4" text-anchor="middle" fill="#1a1a1a" textLength="41.9" lengthAdjust="spacingAndGlyphs">Cu Recovery</text>
<text x="297.5" y="333.9" font-size="7.8" fill="#1a1a1a" textLength="48.5" lengthAdjust="spacingAndGlyphs">Gas holdup, %</text>
<path d="M278.9,310.9 L280.55,308.02 L282.2,305.45 L283.85,303.1 L285.5,300.96 L287.15,298.97 L288.8,297.12 L290.45,295.39 L292.1,293.76 L293.75,292.22 L295.4,290.76 L297.05,289.37 L298.7,288.04 L300.35,286.77 L302,285.55 L303.65,284.38 L305.3,283.25 L306.95,282.16 L308.6,281.11 L310.25,280.1 L311.9,279.11 L313.55,278.16 L315.2,277.23 L316.85,276.33 L318.5,275.46 L320.15,274.6 L321.8,273.77 L323.45,272.96 L325.1,272.17 L326.75,271.4 L328.4,270.64 L330.05,269.9 L331.7,269.18 L333.35,268.47 L335,267.78 L336.65,267.1 L338.3,266.44 L339.95,265.78 L341.6,265.14 L343.25,264.51 L344.9,263.89 L346.55,263.29 L348.2,262.69 L349.85,262.1 L351.5,261.52 L353.15,260.95 L354.8,260.39 L356.45,259.84 L358.1,259.3 L359.75,258.76 L361.4,258.24 L363.05,257.72 L364.7,257.2 L366.35,256.7 L368,256.2 L369.65,255.71 L371.3,255.22 L372.95,254.74 L374.6,254.27 L376.25,253.8" fill="none" stroke="#666666" stroke-width="0.9" stroke-dasharray="2 1.4"/>
<circle cx="287.7" cy="300.2" r="1.85" fill="#f0f0f0" stroke="#8a8a8a" stroke-width="1.15"/>
<circle cx="300.9" cy="284.7" r="1.85" fill="#f0f0f0" stroke="#8a8a8a" stroke-width="1.15"/>
<circle cx="316.4" cy="272.6" r="1.85" fill="#f0f0f0" stroke="#8a8a8a" stroke-width="1.15"/>
<circle cx="334.9" cy="266.2" r="1.85" fill="#f0f0f0" stroke="#8a8a8a" stroke-width="1.15"/>
<path d="M315.2,272.9 L317,274.7 L315.2,276.5 L313.4,274.7Z" fill="#E8AA00" stroke="#5e5020" stroke-width="0.85"/>
<path d="M332.1,267.6 L333.9,269.4 L332.1,271.2 L330.3,269.4Z" fill="#E8AA00" stroke="#5e5020" stroke-width="0.85"/>
<path d="M350.1,264.8 L351.9,266.6 L350.1,268.4 L348.3,266.6Z" fill="#E8AA00" stroke="#5e5020" stroke-width="0.85"/>
<path d="M362.8,257.7 L364.6,259.5 L362.8,261.3 L361,259.5Z" fill="#E8AA00" stroke="#5e5020" stroke-width="0.85"/>
<text x="321.5" y="299" font-size="6.3" fill="#1a1a1a" textLength="38.2" lengthAdjust="spacingAndGlyphs">R<tspan font-size="4.2" dy="1.1">Cu</tspan><tspan dy="-1.1"> = 0.539·ε</tspan><tspan font-size="4.2" dy="1.1">g</tspan></text>
<text x="361" y="297.4" font-size="4.2" fill="#1a1a1a" textLength="10.5" lengthAdjust="spacingAndGlyphs">0.1882</text>
<text x="331" y="307.3" font-size="7.0" fill="#1a1a1a" textLength="31.3" lengthAdjust="spacingAndGlyphs">R² = 0.9471</text>
<rect x="268.4" y="349.75" width="108" height="69.25" fill="none" stroke="#858585" stroke-width="1.35"/>
<line x1="266.2" y1="419" x2="268.4" y2="419" stroke="#858585" stroke-width="1"/>
<text x="261.5" y="421" class="t" font-size="7.0" text-anchor="end" fill="#2a2a2a" textLength="11.8" lengthAdjust="spacingAndGlyphs">70%</text>
<line x1="266.2" y1="395.92" x2="268.4" y2="395.92" stroke="#858585" stroke-width="1"/>
<text x="261.5" y="397.92" class="t" font-size="7.0" text-anchor="end" fill="#2a2a2a" textLength="11.8" lengthAdjust="spacingAndGlyphs">80%</text>
<line x1="266.2" y1="372.83" x2="268.4" y2="372.83" stroke="#858585" stroke-width="1"/>
<text x="261.5" y="374.83" class="t" font-size="7.0" text-anchor="end" fill="#2a2a2a" textLength="11.8" lengthAdjust="spacingAndGlyphs">90%</text>
<line x1="266.2" y1="349.75" x2="268.4" y2="349.75" stroke="#858585" stroke-width="1"/>
<text x="261.5" y="351.75" class="t" font-size="7.0" text-anchor="end" fill="#2a2a2a" textLength="15.02" lengthAdjust="spacingAndGlyphs">100%</text>
<line x1="268.4" y1="419" x2="268.4" y2="421.2" stroke="#858585" stroke-width="1"/>
<text x="268.4" y="430.1" class="t" font-size="7.0" text-anchor="middle" fill="#2a2a2a" textLength="3.22" lengthAdjust="spacingAndGlyphs">0</text>
<line x1="280.4" y1="419" x2="280.4" y2="421.2" stroke="#858585" stroke-width="1"/>
<text x="280.4" y="430.1" class="t" font-size="7.0" text-anchor="middle" fill="#2a2a2a" textLength="3.22" lengthAdjust="spacingAndGlyphs">2</text>
<line x1="292.4" y1="419" x2="292.4" y2="421.2" stroke="#858585" stroke-width="1"/>
<text x="292.4" y="430.1" class="t" font-size="7.0" text-anchor="middle" fill="#2a2a2a" textLength="3.22" lengthAdjust="spacingAndGlyphs">4</text>
<line x1="304.4" y1="419" x2="304.4" y2="421.2" stroke="#858585" stroke-width="1"/>
<text x="304.4" y="430.1" class="t" font-size="7.0" text-anchor="middle" fill="#2a2a2a" textLength="3.22" lengthAdjust="spacingAndGlyphs">6</text>
<line x1="316.4" y1="419" x2="316.4" y2="421.2" stroke="#858585" stroke-width="1"/>
<text x="316.4" y="430.1" class="t" font-size="7.0" text-anchor="middle" fill="#2a2a2a" textLength="3.22" lengthAdjust="spacingAndGlyphs">8</text>
<line x1="328.4" y1="419" x2="328.4" y2="421.2" stroke="#858585" stroke-width="1"/>
<text x="328.4" y="430.1" class="t" font-size="7.0" text-anchor="middle" fill="#2a2a2a" textLength="6.44" lengthAdjust="spacingAndGlyphs">10</text>
<line x1="340.4" y1="419" x2="340.4" y2="421.2" stroke="#858585" stroke-width="1"/>
<text x="340.4" y="430.1" class="t" font-size="7.0" text-anchor="middle" fill="#2a2a2a" textLength="6.44" lengthAdjust="spacingAndGlyphs">12</text>
<line x1="352.4" y1="419" x2="352.4" y2="421.2" stroke="#858585" stroke-width="1"/>
<text x="352.4" y="430.1" class="t" font-size="7.0" text-anchor="middle" fill="#2a2a2a" textLength="6.44" lengthAdjust="spacingAndGlyphs">14</text>
<line x1="364.4" y1="419" x2="364.4" y2="421.2" stroke="#858585" stroke-width="1"/>
<text x="364.4" y="430.1" class="t" font-size="7.0" text-anchor="middle" fill="#2a2a2a" textLength="6.44" lengthAdjust="spacingAndGlyphs">16</text>
<line x1="376.4" y1="419" x2="376.4" y2="421.2" stroke="#858585" stroke-width="1"/>
<text x="376.4" y="430.1" class="t" font-size="7.0" text-anchor="middle" fill="#2a2a2a" textLength="6.44" lengthAdjust="spacingAndGlyphs">18</text>
<text transform="translate(246.9,383) rotate(-90)" x="0" y="0" font-size="7.4" text-anchor="middle" fill="#1a1a1a" textLength="42" lengthAdjust="spacingAndGlyphs">Cu Recovery</text>
<text x="299" y="439.4" font-size="7.8" fill="#1a1a1a" textLength="47" lengthAdjust="spacingAndGlyphs">Gas holdup,%</text>
<path d="M277.82,419 L279.49,416.03 L281.16,413.44 L282.83,411.13 L284.5,409.05 L286.17,407.16 L287.84,405.41 L289.52,403.8 L291.19,402.29 L292.86,400.88 L294.53,399.55 L296.2,398.3 L297.87,397.11 L299.54,395.98 L301.21,394.9 L302.88,393.87 L304.55,392.88 L306.22,391.93 L307.89,391.02 L309.57,390.15 L311.24,389.3 L312.91,388.48 L314.58,387.69 L316.25,386.93 L317.92,386.19 L319.59,385.47 L321.26,384.77 L322.93,384.09 L324.6,383.43 L326.27,382.78 L327.95,382.15 L329.62,381.54 L331.29,380.94 L332.96,380.36 L334.63,379.79 L336.3,379.23 L337.97,378.68 L339.64,378.15 L341.31,377.63 L342.98,377.11 L344.65,376.61 L346.32,376.12 L348,375.63 L349.67,375.16 L351.34,374.69 L353.01,374.23 L354.68,373.78 L356.35,373.34 L358.02,372.91 L359.69,372.48 L361.36,372.06 L363.03,371.64 L364.7,371.24 L366.37,370.83 L368.05,370.44 L369.72,370.05 L371.39,369.66 L373.06,369.29 L374.73,368.91 L376.4,368.54" fill="none" stroke="#666666" stroke-width="0.9" stroke-dasharray="2 1.4"/>
<circle cx="288.5" cy="404.5" r="1.85" fill="#f0f0f0" stroke="#8a8a8a" stroke-width="1.15"/>
<circle cx="301.2" cy="398.4" r="1.85" fill="#f0f0f0" stroke="#8a8a8a" stroke-width="1.15"/>
<circle cx="317.2" cy="384.3" r="1.85" fill="#f0f0f0" stroke="#8a8a8a" stroke-width="1.15"/>
<circle cx="335.5" cy="380.6" r="1.85" fill="#f0f0f0" stroke="#8a8a8a" stroke-width="1.15"/>
<path d="M316.4,382.3 L318.2,384.1 L316.4,385.9 L314.6,384.1Z" fill="#E8AA00" stroke="#5e5020" stroke-width="0.85"/>
<path d="M332.7,378.1 L334.5,379.9 L332.7,381.7 L330.9,379.9Z" fill="#E8AA00" stroke="#5e5020" stroke-width="0.85"/>
<path d="M351,376.7 L352.8,378.5 L351,380.3 L349.2,378.5Z" fill="#E8AA00" stroke="#5e5020" stroke-width="0.85"/>
<path d="M363,369.1 L364.8,370.9 L363,372.7 L361.2,370.9Z" fill="#E8AA00" stroke="#5e5020" stroke-width="0.85"/>
<text x="319.8" y="405.8" font-size="6.3" fill="#1a1a1a" textLength="40.4" lengthAdjust="spacingAndGlyphs">R<tspan font-size="4.2" dy="1.1">Cu</tspan><tspan dy="-1.1"> = 0.6657·ε</tspan><tspan font-size="4.2" dy="1.1">g</tspan></text>
<text x="361.5" y="403.7" font-size="4.2" fill="#1a1a1a" textLength="9.2" lengthAdjust="spacingAndGlyphs">0.1114</text>
<text x="331.5" y="413.3" font-size="7.0" fill="#1a1a1a" textLength="31.2" lengthAdjust="spacingAndGlyphs">R² = 0.9449</text>
<rect x="268.6" y="457" width="108.9" height="69.8" fill="none" stroke="#858585" stroke-width="1.35"/>
<line x1="266.4" y1="526.8" x2="268.6" y2="526.8" stroke="#858585" stroke-width="1"/>
<text x="261.9" y="528.8" class="t" font-size="7.0" text-anchor="end" fill="#2a2a2a" textLength="11.8" lengthAdjust="spacingAndGlyphs">70%</text>
<line x1="266.4" y1="503.53" x2="268.6" y2="503.53" stroke="#858585" stroke-width="1"/>
<text x="261.9" y="505.53" class="t" font-size="7.0" text-anchor="end" fill="#2a2a2a" textLength="11.8" lengthAdjust="spacingAndGlyphs">80%</text>
<line x1="266.4" y1="480.27" x2="268.6" y2="480.27" stroke="#858585" stroke-width="1"/>
<text x="261.9" y="482.27" class="t" font-size="7.0" text-anchor="end" fill="#2a2a2a" textLength="11.8" lengthAdjust="spacingAndGlyphs">90%</text>
<line x1="266.4" y1="457" x2="268.6" y2="457" stroke="#858585" stroke-width="1"/>
<text x="261.9" y="459" class="t" font-size="7.0" text-anchor="end" fill="#2a2a2a" textLength="15.02" lengthAdjust="spacingAndGlyphs">100%</text>
<line x1="268.6" y1="526.8" x2="268.6" y2="529" stroke="#858585" stroke-width="1"/>
<text x="268.6" y="538.5" class="t" font-size="7.0" text-anchor="middle" fill="#2a2a2a" textLength="3.22" lengthAdjust="spacingAndGlyphs">0</text>
<line x1="280.7" y1="526.8" x2="280.7" y2="529" stroke="#858585" stroke-width="1"/>
<text x="280.7" y="538.5" class="t" font-size="7.0" text-anchor="middle" fill="#2a2a2a" textLength="3.22" lengthAdjust="spacingAndGlyphs">2</text>
<line x1="292.8" y1="526.8" x2="292.8" y2="529" stroke="#858585" stroke-width="1"/>
<text x="292.8" y="538.5" class="t" font-size="7.0" text-anchor="middle" fill="#2a2a2a" textLength="3.22" lengthAdjust="spacingAndGlyphs">4</text>
<line x1="304.9" y1="526.8" x2="304.9" y2="529" stroke="#858585" stroke-width="1"/>
<text x="304.9" y="538.5" class="t" font-size="7.0" text-anchor="middle" fill="#2a2a2a" textLength="3.22" lengthAdjust="spacingAndGlyphs">6</text>
<line x1="317" y1="526.8" x2="317" y2="529" stroke="#858585" stroke-width="1"/>
<text x="317" y="538.5" class="t" font-size="7.0" text-anchor="middle" fill="#2a2a2a" textLength="3.22" lengthAdjust="spacingAndGlyphs">8</text>
<line x1="329.1" y1="526.8" x2="329.1" y2="529" stroke="#858585" stroke-width="1"/>
<text x="329.1" y="538.5" class="t" font-size="7.0" text-anchor="middle" fill="#2a2a2a" textLength="6.44" lengthAdjust="spacingAndGlyphs">10</text>
<line x1="341.2" y1="526.8" x2="341.2" y2="529" stroke="#858585" stroke-width="1"/>
<text x="341.2" y="538.5" class="t" font-size="7.0" text-anchor="middle" fill="#2a2a2a" textLength="6.44" lengthAdjust="spacingAndGlyphs">12</text>
<line x1="353.3" y1="526.8" x2="353.3" y2="529" stroke="#858585" stroke-width="1"/>
<text x="353.3" y="538.5" class="t" font-size="7.0" text-anchor="middle" fill="#2a2a2a" textLength="6.44" lengthAdjust="spacingAndGlyphs">14</text>
<line x1="365.4" y1="526.8" x2="365.4" y2="529" stroke="#858585" stroke-width="1"/>
<text x="365.4" y="538.5" class="t" font-size="7.0" text-anchor="middle" fill="#2a2a2a" textLength="6.44" lengthAdjust="spacingAndGlyphs">16</text>
<line x1="377.5" y1="526.8" x2="377.5" y2="529" stroke="#858585" stroke-width="1"/>
<text x="377.5" y="538.5" class="t" font-size="7.0" text-anchor="middle" fill="#2a2a2a" textLength="6.44" lengthAdjust="spacingAndGlyphs">18</text>
<text transform="translate(247.8,487.95) rotate(-90)" x="0" y="0" font-size="7.4" text-anchor="middle" fill="#1a1a1a" textLength="42.7" lengthAdjust="spacingAndGlyphs">Cu Recovery</text>
<text x="300" y="544.1" font-size="7.8" fill="#1a1a1a" textLength="45" lengthAdjust="spacingAndGlyphs">Gas holdup [%]</text>
<path d="M277.25,521.67 L278.95,518.73 L280.65,516.2 L282.35,513.97 L284.05,511.98 L285.75,510.18 L287.45,508.53 L289.15,507.02 L290.84,505.61 L292.54,504.29 L294.24,503.06 L295.94,501.9 L297.64,500.8 L299.34,499.76 L301.04,498.77 L302.74,497.82 L304.44,496.92 L306.14,496.05 L307.84,495.22 L309.53,494.43 L311.23,493.66 L312.93,492.91 L314.63,492.2 L316.33,491.5 L318.03,490.83 L319.73,490.18 L321.43,489.55 L323.13,488.94 L324.83,488.34 L326.53,487.76 L328.23,487.19 L329.92,486.64 L331.62,486.11 L333.32,485.58 L335.02,485.07 L336.72,484.57 L338.42,484.08 L340.12,483.6 L341.82,483.13 L343.52,482.67 L345.22,482.22 L346.92,481.78 L348.61,481.35 L350.31,480.93 L352.01,480.51 L353.71,480.1 L355.41,479.7 L357.11,479.31 L358.81,478.92 L360.51,478.54 L362.21,478.17 L363.91,477.8 L365.61,477.44 L367.31,477.08 L369,476.73 L370.7,476.38 L372.4,476.04 L374.1,475.71 L375.8,475.38 L377.5,475.05" fill="none" stroke="#666666" stroke-width="0.9" stroke-dasharray="2 1.4"/>
<circle cx="288.9" cy="507.3" r="1.85" fill="#f0f0f0" stroke="#8a8a8a" stroke-width="1.15"/>
<circle cx="301.8" cy="501.3" r="1.85" fill="#f0f0f0" stroke="#8a8a8a" stroke-width="1.15"/>
<circle cx="317.6" cy="489.8" r="1.85" fill="#f0f0f0" stroke="#8a8a8a" stroke-width="1.15"/>
<circle cx="336.2" cy="486.4" r="1.85" fill="#f0f0f0" stroke="#8a8a8a" stroke-width="1.15"/>
<path d="M316.7,484.1 L318.5,485.9 L316.7,487.7 L314.9,485.9Z" fill="#E8AA00" stroke="#5e5020" stroke-width="0.85"/>
<path d="M333.3,482.4 L335.1,484.2 L333.3,486 L331.5,484.2Z" fill="#E8AA00" stroke="#5e5020" stroke-width="0.85"/>
<path d="M351.6,481.8 L353.4,483.6 L351.6,485.4 L349.8,483.6Z" fill="#E8AA00" stroke="#5e5020" stroke-width="0.85"/>
<path d="M364,474.6 L365.8,476.4 L364,478.2 L362.2,476.4Z" fill="#E8AA00" stroke="#5e5020" stroke-width="0.85"/>
<text x="321.5" y="513.8" font-size="6.3" fill="#1a1a1a" textLength="39.2" lengthAdjust="spacingAndGlyphs">R<tspan font-size="4.2" dy="1.1">Cu</tspan><tspan dy="-1.1"> = 0.6975·ε</tspan><tspan font-size="4.2" dy="1.1">g</tspan></text>
<text x="362" y="511.7" font-size="4.2" fill="#1a1a1a" textLength="9.5" lengthAdjust="spacingAndGlyphs">0.0967</text>
<text x="333.2" y="521.3" font-size="7.0" fill="#1a1a1a" textLength="26.6" lengthAdjust="spacingAndGlyphs">R² = 0.918</text>
<circle cx="165.4" cy="82.8" r="1.35" fill="#f0f0f0" stroke="#8a8a8a" stroke-width="1.15"/>
<path d="M166,89.4 L167.6,91 L166,92.6 L164.4,91Z" fill="#E8AA00" stroke="#5e5020" stroke-width="0.85"/>
<text x="169.2" y="84.8" font-size="7.3" fill="#1a1a1a" textLength="36.6" lengthAdjust="spacingAndGlyphs">Pulp 5[ppm]</text>
<text x="169.2" y="92.8" font-size="7.3" fill="#1a1a1a" textLength="40" lengthAdjust="spacingAndGlyphs">Pulp 20[ppm]</text>
<text x="158.6" y="10.4" font-size="11" fill="#1a1a1a" style="stroke-width:0.45px" textLength="3.6" lengthAdjust="spacingAndGlyphs">J</text><text x="161.9" y="11.6" font-size="7.2" fill="#1a1a1a" style="stroke-width:0.25px">g</text>
<text x="318.4" y="9.5" font-size="10.2" fill="#1a1a1a" style="stroke-width:0.2px">ε</text><text x="322.8" y="12.0" font-size="7.0" fill="#1a1a1a" style="stroke-width:0.2px">g</text>
<text transform="translate(44.3,76) rotate(-90)" font-size="9.1" style="stroke-width:0.02px" text-anchor="middle" fill="#1a1a1a" textLength="26.6" lengthAdjust="spacingAndGlyphs">1 [min]</text>
<text transform="translate(44.3,180) rotate(-90)" font-size="9.1" style="stroke-width:0.02px" text-anchor="middle" fill="#1a1a1a" textLength="26.0" lengthAdjust="spacingAndGlyphs">2 [min]</text>
<text transform="translate(44.3,286.6) rotate(-90)" font-size="9.1" style="stroke-width:0.02px" text-anchor="middle" fill="#1a1a1a" textLength="26.2" lengthAdjust="spacingAndGlyphs">4 [min]</text>
<text transform="translate(44.3,394) rotate(-90)" font-size="9.1" style="stroke-width:0.02px" text-anchor="middle" fill="#1a1a1a" textLength="26.6" lengthAdjust="spacingAndGlyphs">8 [min]</text>
<text transform="translate(44.3,500.4) rotate(-90)" font-size="9.1" style="stroke-width:0.02px" text-anchor="middle" fill="#1a1a1a" textLength="30.8" lengthAdjust="spacingAndGlyphs">12 [min]</text>
<text transform="translate(10.9,288.5) rotate(-90)" font-size="10" text-anchor="middle" fill="#1a1a1a" style="stroke-width:0.05px" textLength="56.5" lengthAdjust="spacingAndGlyphs">Flotation time</text>
</svg>
</body></html>
